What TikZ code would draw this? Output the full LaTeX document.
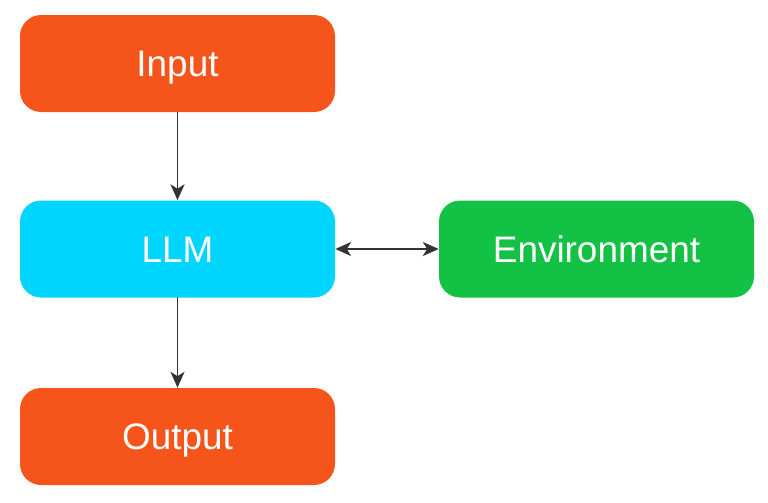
\documentclass[tikz,border=0pt]{standalone}
\usepackage{fontspec}
\setmainfont{Liberation Sans}
\usetikzlibrary{arrows.meta}
\definecolor{boxorange}{HTML}{F5541A}
\definecolor{boxcyan}{HTML}{00D5FF}
\definecolor{boxgreen}{HTML}{13C245}
\definecolor{arrowgray}{HTML}{333333}
\begin{document}
\begin{tikzpicture}[line join = round, line cap = round,>={Stealth[length=9pt,width=8pt,inset=2.5pt]},
	block/.style={rounded corners=12pt,minimum width=6.3cm,minimum height=1.94cm,text height=15pt,text depth=0pt,text=white,font=\fontsize{21}{24}\selectfont},
	link/.style={draw=arrowgray,line width=1pt}]
			\useasboundingbox (0,0) rectangle (15.36,-10.04);
			%Các khối
			\node[block,fill=boxorange] (input) at (3.55,-1.27) {Input};
			\node[block,fill=boxcyan] (llm) at (3.55,-4.98) {LLM};
			\node[block,fill=boxorange] (output) at (3.55,-8.73) {Output};
			\node[block,fill=boxgreen] (env) at (11.93,-4.98) {Environment};
			%Các mũi tên
			\draw[link,->] (input)--(llm);
			\draw[link,->] (llm)--(output);
			\draw[link,<->] (llm)--(env);
		\end{tikzpicture}
\end{document}
